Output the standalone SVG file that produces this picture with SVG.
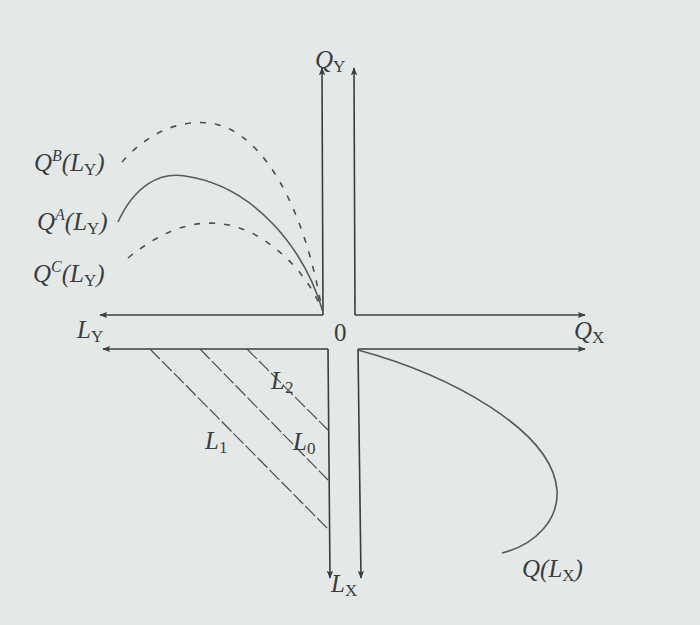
<svg xmlns="http://www.w3.org/2000/svg" width="700" height="625" viewBox="0 0 700 625">
<style>
.ax{stroke:#3a3d40;stroke-width:1.6;fill:none}
.cv{stroke:#555a5e;stroke-width:1.6;fill:none}
.dash{stroke:#4a4e52;stroke-width:1.6;fill:none;stroke-dasharray:6 9}
.ln{stroke:#4a4e52;stroke-width:1.2;fill:none;stroke-dasharray:14 3}
text{font-family:"Liberation Serif","DejaVu Serif",serif;font-style:italic;fill:#3a3d40;font-size:25px}
.sub{font-size:17px;font-style:normal}
.sup{font-size:16px}
</style>
<defs>
<marker id="arr" viewBox="0 0 10 10" refX="9" refY="5" markerWidth="8" markerHeight="8" orient="auto-start-reverse" markerUnits="userSpaceOnUse">
<path d="M0,1 L10,5 L0,9 L2,5 Z" fill="#3a3d40"/>
</marker>
</defs>
<rect width="700" height="625" fill="#e4e9e8"/>
<g id="connectors">
<line class="ax" x1="323" y1="315" x2="100" y2="315" marker-end="url(#arr)"/>
<line class="ax" x1="323" y1="315" x2="322" y2="68" marker-end="url(#arr)"/>
<line class="ax" x1="355" y1="315" x2="354" y2="68" marker-end="url(#arr)"/>
<line class="ax" x1="355" y1="315" x2="585" y2="315" marker-end="url(#arr)"/>
<line class="ax" x1="328" y1="349" x2="103" y2="349" marker-end="url(#arr)"/>
<line class="ax" x1="328" y1="349" x2="330" y2="578" marker-end="url(#arr)"/>
<line class="ax" x1="358" y1="349" x2="585" y2="349" marker-end="url(#arr)"/>
<line class="ax" x1="358" y1="349" x2="361" y2="578" marker-end="url(#arr)"/>
</g>
<g id="curves-top-left">
<path class="dash" d="M122,162 C150,130 185,118 215,124 C265,135 305,210 322,310"/>
<path class="cv" d="M118,222 C135,185 160,172 185,176 C255,186 305,250 323,312"/>
<path class="dash" d="M128,258 C165,228 205,212 250,232 C285,250 310,280 322,310"/>
</g>
<g id="lines-bottom-left">
<line class="ln" x1="247" y1="349" x2="328" y2="430"/>
<line class="ln" x1="200" y1="349" x2="328" y2="480"/>
<line class="ln" x1="150" y1="349" x2="329" y2="530"/>
</g>
<g id="curve-bottom-right">
<path class="cv" d="M358,350 C450,375 552,430 557,490 C559,520 535,545 502,553"/>
</g>
<g id="labels">
<text x="315" y="68">Q<tspan class="sub" dy="4">Y</tspan></text>
<text x="34" y="171">Q<tspan class="sup" dy="-10">B</tspan><tspan dy="10">(L</tspan><tspan class="sub" dy="4">Y</tspan><tspan dy="-4">)</tspan></text>
<text x="37" y="230">Q<tspan class="sup" dy="-10">A</tspan><tspan dy="10">(L</tspan><tspan class="sub" dy="4">Y</tspan><tspan dy="-4">)</tspan></text>
<text x="33" y="282">Q<tspan class="sup" dy="-10">C</tspan><tspan dy="10">(L</tspan><tspan class="sub" dy="4">Y</tspan><tspan dy="-4">)</tspan></text>
<text x="77" y="338">L<tspan class="sub" dy="4">Y</tspan></text>
<text x="334" y="341" style="font-style:normal">0</text>
<text x="574" y="339">Q<tspan class="sub" font-style="italic" dy="4">X</tspan></text>
<text x="271" y="389">L<tspan class="sub" dy="4">2</tspan></text>
<text x="205" y="449">L<tspan class="sub" dy="4">1</tspan></text>
<text x="293" y="450">L<tspan class="sub" dy="4">0</tspan></text>
<text x="331" y="592">L<tspan class="sub" font-style="italic" dy="4">X</tspan></text>
<text x="522" y="577">Q(L<tspan class="sub" font-style="italic" dy="4">X</tspan><tspan dy="-4">)</tspan></text>
</g>
</svg>
